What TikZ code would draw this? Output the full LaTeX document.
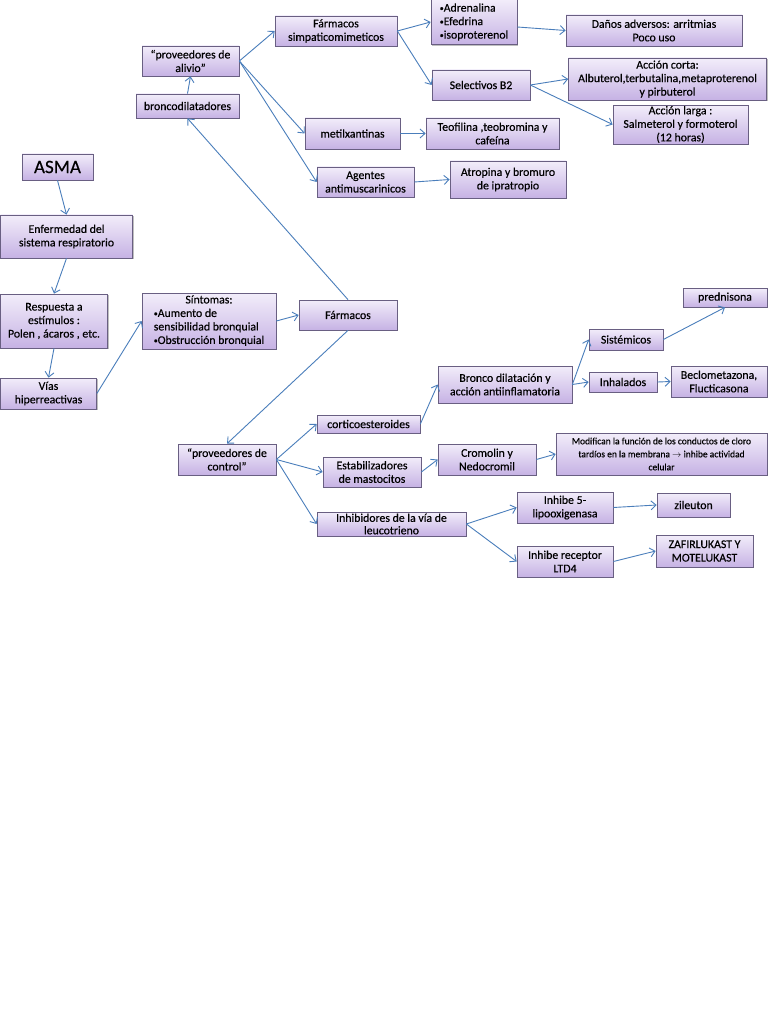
\documentclass[tikz,border=0pt]{standalone}
\usepackage{fontspec}
\setmainfont{Carlito}[FakeBold=0.35]
\usetikzlibrary{arrows.meta,shadows}
\definecolor{boxtop}{RGB}{242,237,250}
\definecolor{boxbot}{RGB}{198,178,228}
\definecolor{boxline}{RGB}{105,95,130}
\definecolor{arrowc}{RGB}{74,126,187}
\newcommand{\sbul}{{\fontsize{8}{8}\selectfont\raisebox{0.8pt}{•}}}
\tikzset{
  cbox/.style={draw=boxline, line width=0.7pt, top color=boxtop, bottom color=boxbot,
    align=center, inner sep=1pt, font=\fontsize{11.8}{13.5}\selectfont,
    drop shadow={shadow xshift=1.2pt, shadow yshift=-1.2pt, opacity=0.25, fill=black}},
  conn/.style={draw=arrowc, line width=0.9pt, -{Straight Barb[length=5pt,width=9pt]}}
}
\begin{document}
\begin{tikzpicture}[x=1pt,y=-1pt]
\useasboundingbox[fill=white] (0,0) rectangle (768,1024);
% left column
\node[cbox, minimum width=71pt, minimum height=26pt, font=\fontsize{19}{21}\selectfont] (asma) at (57.5,167) {ASMA};
\node[cbox, minimum width=132pt, minimum height=43pt] (enf) at (66.5,236.5) {Enfermedad del\\sistema respiratorio};
\node[cbox, minimum width=107pt, minimum height=54pt] (resp) at (54,321) {Respuesta a\\estímulos :\\Polen , ácaros , etc.};
\node[cbox, minimum width=96pt, minimum height=31pt] (vias) at (48.5,393.5) {Vías\\hiperreactivas};
\node[cbox, minimum width=134pt, minimum height=54pt] (sint) at (209,321) {\begin{tabular}{@{}l@{}}\multicolumn{1}{@{}c@{}}{Síntomas:}\\\sbul Aumento de\\sensibilidad bronquial\\\sbul Obstrucción bronquial\end{tabular}};
\node[cbox, minimum width=98pt, minimum height=30pt] (farm) at (348,315) {Fármacos};
% relief branch
\node[cbox, minimum width=103pt, minimum height=24pt] (bronc) at (187.5,106) {broncodilatadores};
\node[cbox, minimum width=97pt, minimum height=30pt] (alivio) at (190.5,61) {“proveedores de\\alivio”};
\node[cbox, minimum width=122pt, minimum height=30pt] (simp) at (336,31) {Fármacos\\simpaticomimeticos};
\node[cbox, minimum width=86pt, minimum height=45pt, align=left] (adre) at (474,22) {\sbul Adrenalina\\\sbul Efedrina\\\sbul isoproterenol};
\node[cbox, minimum width=176pt, minimum height=31pt] (danos) at (654,30.5) {Daños adversos: arritmias\\Poco uso};
\node[cbox, minimum width=98pt, minimum height=30pt] (selec) at (481,85) {Selectivos B2};
\node[cbox, minimum width=198pt, minimum height=42pt] (corta) at (667.5,79) {Acción corta:\\Albuterol,terbutalina,metaproterenol\\y pirbuterol};
\node[cbox, minimum width=135pt, minimum height=37pt] (larga) at (680.5,124.5) {Acción larga :\\Salmeterol y formoterol\\(12 horas)};
\node[cbox, minimum width=95pt, minimum height=31pt] (metil) at (352.5,133.5) {metilxantinas};
\node[cbox, minimum width=133pt, minimum height=31pt] (teof) at (492.5,133.5) {Teofilina ,teobromina y\\cafeína};
\node[cbox, minimum width=97pt, minimum height=30pt] (agent) at (365.5,182) {Agentes\\antimuscarinicos};
\node[cbox, minimum width=116pt, minimum height=37pt] (atrop) at (508,179.5) {Atropina y bromuro\\de ipratropio};
% control branch
\node[cbox, minimum width=98pt, minimum height=31pt] (control) at (227,459.5) {“proveedores de\\control”};
\node[cbox, minimum width=103pt, minimum height=18pt] (cortico) at (368.5,424) {corticoesteroides};
\node[cbox, minimum width=134pt, minimum height=37pt] (bdil) at (505,384.5) {Bronco dilatación y\\acción antiinflamatoria};
\node[cbox, minimum width=74pt, minimum height=21pt] (sist) at (626,339.5) {Sistémicos};
\node[cbox, minimum width=84pt, minimum height=19pt] (predn) at (725,297.5) {prednisona};
\node[cbox, minimum width=68pt, minimum height=20pt] (inhal) at (623,382) {Inhalados};
\node[cbox, minimum width=96pt, minimum height=31pt] (beclo) at (719,381.5) {Beclometazona,\\Flucticasona};
\node[cbox, minimum width=98pt, minimum height=30pt] (estab) at (372,472) {Estabilizadores\\de mastocitos};
\node[cbox, minimum width=98pt, minimum height=31pt] (cromo) at (487,459.5) {Cromolin y\\Nedocromil};
\node[cbox, minimum width=211pt, minimum height=42pt, font=\fontsize{9.5}{13}\selectfont] (modif) at (661.5,454) {Modifican la función de los conductos de cloro\\tardíos en la membrana $\rightarrow$ inhibe actividad\\celular};
\node[cbox, minimum width=149pt, minimum height=24pt, inner sep=0pt, font=\fontsize{11.8}{12.5}\selectfont] (inhib) at (391.5,524) {Inhibidores de la vía de\\leucotrieno};
\node[cbox, minimum width=96pt, minimum height=31pt] (inh5) at (565,507.5) {Inhibe 5-\\lipooxigenasa};
\node[cbox, minimum width=73pt, minimum height=24pt] (zileu) at (693.5,505) {zileuton};
\node[cbox, minimum width=96pt, minimum height=31pt] (inhr) at (565,561.5) {Inhibe receptor\\LTD4};
\node[cbox, minimum width=97pt, minimum height=32pt] (zafir) at (704.5,551) {ZAFIRLUKAST Y\\MOTELUKAST};
% connectors
\draw[conn] (asma.south) -- (enf.north);
\draw[conn] (enf.south) -- (resp.north);
\draw[conn] (resp.south) -- (vias.north);
\draw[conn] (vias.east) -- (sint.west);
\draw[conn] (sint.east) -- (farm.west);
\draw[conn] (farm.north) -- (bronc.south);
\draw[conn] (bronc.north) -- (alivio.south);
\draw[conn] (farm.south) -- (control.north);
\draw[conn] (alivio.east) -- (simp.west);
\draw[conn] (alivio.east) -- (metil.west);
\draw[conn] (alivio.east) -- (agent.west);
\draw[conn] (simp.east) -- (adre.west);
\draw[conn] (simp.east) -- (selec.west);
\draw[conn] ([yshift=-5pt]adre.east) -- (danos.west);
\draw[conn] (selec.east) -- (corta.west);
\draw[conn] (selec.east) -- (larga.west);
\draw[conn] (metil.east) -- (teof.west);
\draw[conn] (agent.east) -- (atrop.west);
\draw[conn] (control.east) -- (cortico.west);
\draw[conn] (control.east) -- (estab.west);
\draw[conn] (control.east) -- (inhib.west);
\draw[conn] (cortico.east) -- (bdil.west);
\draw[conn] (bdil.east) -- (sist.west);
\draw[conn] (bdil.east) -- (inhal.west);
\draw[conn] (sist.east) -- (predn.south);
\draw[conn] (inhal.east) -- (beclo.west);
\draw[conn] (estab.east) -- (cromo.west);
\draw[conn] (cromo.east) -- (modif.west);
\draw[conn] (inhib.east) -- (inh5.west);
\draw[conn] (inhib.east) -- (inhr.west);
\draw[conn] (inh5.east) -- (zileu.west);
\draw[conn] (inhr.east) -- (zafir.west);
\end{tikzpicture}
\end{document}
